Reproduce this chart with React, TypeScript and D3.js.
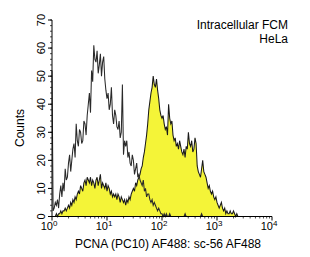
import React from "react";
import * as d3 from "d3";

// histogram channel grid: log10 position of each bin (step 0.02 decade)
const BIN_STEP = 0.02;

// control (unstained / isotype) histogram counts, bin j at log10 = j*0.02
const controlCounts = [
  52, 2, 3, 5, 4, 6, 3, 8, 11, 7, 12, 9, 17, 13, 14, 19, 22, 16, 20, 24,
  26, 21, 33, 27, 25, 31, 30, 26, 27, 34, 33, 29, 36, 40, 44, 37, 52, 48, 61, 56,
  55, 59, 51, 54, 58, 50, 55, 57, 49, 45, 42, 44, 38, 40, 46, 36, 33, 38, 36, 32,
  31, 34, 28, 30, 47, 22, 27, 25, 27, 21, 23, 19, 18, 22, 20, 15, 17, 19, 14, 15,
  13, 12, 11, 13, 9, 10, 7, 8, 8, 6, 5, 6, 4, 5, 4, 3, 2, 3, 2, 1,
  1, 0, 1, 0, 1, 0, 0, 1, 0, 0, 0, 0, 0, 0, 0, 0, 0, 0, 0, 0,
  0, 1, 0, 0, 0, 0, 0, 0, 0, 0, 0, 0, 0, 0, 0, 0, 1, 0, 0, 0,
  0, 0, 0, 0, 0, 0, 0, 0, 0, 0, 0, 0, 0, 0, 0, 0, 0, 0, 0, 0,
  0, 0, 0, 0, 0, 0, 0, 0, 0, 0, 0, 0, 0, 0, 0, 0, 0, 0, 0, 0,
  0, 0, 0, 0, 0, 0, 0, 0, 0, 0, 0,
];

// PCNA (PC10) AF488 stained histogram counts
const stainedCounts = [
  0, 0, 0, 0, 1, 0, 1, 1, 2, 1, 2, 2, 3, 2, 3, 4, 3, 5, 4, 6,
  5, 7, 6, 8, 9, 8, 11, 10, 9, 12, 13, 11, 14, 13, 12, 14, 11, 13, 12, 10,
  13, 14, 11, 13, 15, 10, 12, 11, 10, 12, 9, 11, 10, 8, 9, 7, 8, 7, 8, 6,
  8, 7, 5, 7, 6, 5, 6, 4, 6, 5, 7, 6, 8, 9, 10, 9, 12, 11, 13, 14,
  15, 17, 18, 21, 23, 26, 29, 33, 38, 41, 44, 46, 50, 47, 46, 49, 45, 42, 38, 36,
  35, 36, 33, 31, 32, 29, 40, 35, 33, 34, 29, 27, 28, 25, 26, 24, 27, 25, 23, 22,
  24, 21, 25, 24, 30, 26, 25, 27, 23, 24, 28, 26, 18, 16, 15, 14, 17, 20, 16, 15,
  14, 12, 10, 11, 9, 8, 9, 7, 6, 7, 5, 4, 3, 4, 5, 3, 2, 3, 1, 2,
  1, 1, 2, 1, 1, 2, 1, 0, 1, 0, 0, 0, 0, 0, 0, 0, 0, 0, 0, 0,
  0, 0, 0, 0, 0, 0, 0, 0, 0, 0, 0,
];

const yTicks = [0, 10, 20, 30, 40, 50, 60, 70];
const xDecades = [0, 1, 2, 3, 4];
const titleLines = ["Intracellular FCM", "HeLa"];
const xLabel = "PCNA (PC10) AF488: sc-56 AF488";
const yLabel = "Counts";

const W = 310;
const H = 257;
const left = 52;
const right = 272;
const top = 20;
const bottom = 216.5;

export default function App() {
  const x = d3.scaleLog().domain([1, 10000]).range([left, right]);
  const y = d3.scaleLinear().domain([0, 70]).range([bottom, top]);

  const toPts = (arr: number[]) =>
    arr.map((c, j) => ({ v: Math.pow(10, j * BIN_STEP), c }));

  const line = d3
    .line<{ v: number; c: number }>()
    .x((d) => x(d.v))
    .y((d) => y(d.c));
  const area = d3
    .area<{ v: number; c: number }>()
    .x((d) => x(d.v))
    .y0(y(0))
    .y1((d) => y(d.c));

  const stained = toPts(stainedCounts);
  const control = toPts(controlCounts);

  const minorY = d3.range(0, 71, 2);
  const minorX: number[] = [];
  for (let dcd = 0; dcd < 4; dcd++)
    for (let k = 2; k <= 9; k++) minorX.push(k * Math.pow(10, dcd));

  const font = "'Liberation Sans', Arial, sans-serif";

  return (
    <svg width={W} height={H} style={{ position: "absolute", left: 0, top: 0, background: "#fff" }}>
      <rect x={0} y={0} width={W} height={H} fill="#fff" />
      <path d={area(stained) || ""} fill="#f4f438" stroke="none" />
      <path d={line(stained) || ""} fill="none" stroke="#1a1a1a" strokeWidth={1.05} />
      <path d={line(control) || ""} fill="none" stroke="#2a2a2a" strokeWidth={1.05} />

      {/* y axis */}
      <line x1={left} x2={left} y1={top} y2={bottom} stroke="#000" strokeWidth={1} />
      {minorY.map((t) => (
        <line key={"my" + t} x1={left - 2} x2={left} y1={y(t)} y2={y(t)} stroke="#000" strokeWidth={0.7} />
      ))}
      {yTicks.map((t) => (
        <g key={"yt" + t}>
          <line x1={left - 4} x2={left} y1={y(t)} y2={y(t)} stroke="#000" strokeWidth={1} />
          <text
            transform={`translate(${left - 7},${y(t)}) rotate(-90)`}
            textAnchor="middle"
            fontFamily={font}
            fontSize={11}
            fill="#000"
          >
            {t}
          </text>
        </g>
      ))}
      <text
        transform={`translate(24,${128}) rotate(-90)`}
        textAnchor="middle"
        fontFamily={font}
        fontSize={12}
        fill="#000"
      >
        {yLabel}
      </text>

      {/* x axis */}
      <line x1={left} x2={right} y1={bottom} y2={bottom} stroke="#000" strokeWidth={1} />
      {minorX.map((t) => (
        <line key={"mx" + t} x1={x(t)} x2={x(t)} y1={bottom} y2={bottom + 2} stroke="#000" strokeWidth={0.7} />
      ))}
      {xDecades.map((d) => (
        <g key={"xd" + d}>
          <line x1={x(Math.pow(10, d))} x2={x(Math.pow(10, d))} y1={bottom} y2={bottom + 4} stroke="#000" />
          <text x={x(Math.pow(10, d)) - 3} y={230} textAnchor="middle" fontFamily={font} fontSize={11} fill="#000">
            10
            <tspan fontSize={8} dy={-4}>
              {String(d)}
            </tspan>
          </text>
        </g>
      ))}
      <text x={168} y={248} textAnchor="middle" fontFamily={font} fontSize={12} fill="#000">
        {xLabel}
      </text>

      {/* title */}
      {titleLines.map((t, i) => (
        <text key={t} x={288} y={29 + i * 14} textAnchor="end" fontFamily={font} fontSize={12} fill="#000">
          {t}
        </text>
      ))}
    </svg>
  );
}
